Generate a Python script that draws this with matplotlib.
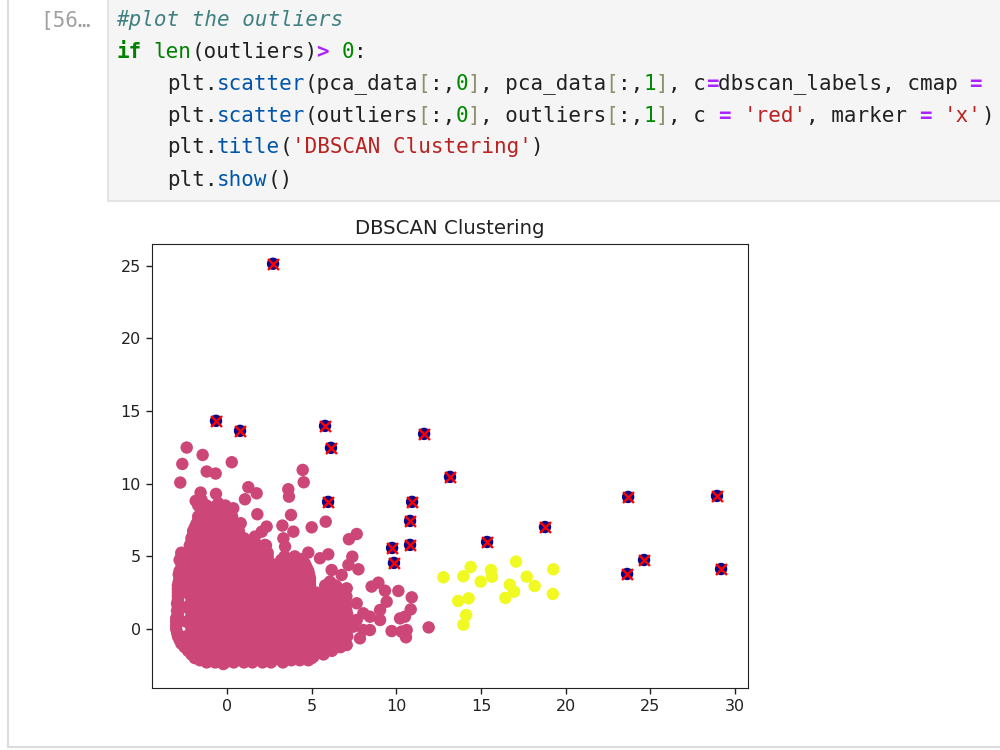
import numpy as np
import matplotlib
matplotlib.use("Agg")
import matplotlib.pyplot as plt
from matplotlib.patches import Rectangle

# outliers (label -1)
outlier_x = [2.72, -0.65, 0.77, 5.79, 6.14, 5.97, 11.64, 13.17, 10.93, 10.81,
             10.81, 9.75, 9.86, 15.36, 18.78, 23.69, 28.94, 23.63, 24.63, 29.18]
outlier_y = [25.14, 14.33, 13.64, 13.98, 12.47, 8.75, 13.43, 10.47, 8.75, 7.44,
             5.79, 5.58, 4.55, 5.99, 7.02, 9.09, 9.16, 3.79, 4.75, 4.13]

# second cluster (label 1)
yellow_x = [12.78, 13.96, 14.39, 15.59, 15.65, 14.98, 17.07, 17.70, 19.27,
            18.17, 16.70, 16.95, 16.44, 19.24, 14.27, 13.65, 14.12, 13.96]
yellow_y = [3.56, 3.63, 4.27, 4.06, 3.60, 3.26, 4.64, 3.60, 4.11,
            2.96, 3.05, 2.57, 2.14, 2.41, 2.11, 1.93, 0.96, 0.30]

# main cluster (label 0): the loose points around the edge
pink_edge_x = [4.47, 4.53, 0.28, -1.44, -2.38, -2.64, -2.76, -1.20, -0.67, -1.56,
               -0.65, -1.85, -1.50, -0.51, 1.26, 1.75, 1.06, 3.62, 3.66, 3.78,
               1.79, 0.81, 0.37, 5.83, 5.00, 3.27, 3.92, 2.34, 2.05, 1.65,
               3.33, 3.43, 2.24, 1.36, 4.80, 4.41, 5.98, 5.49, 7.66, 7.20,
               7.40, 7.17, 7.76, 6.18, 6.77, 6.08, 6.48, 7.07, 6.97, 7.66,
               8.05, 7.66, 8.05, 8.44, 9.04, 9.43, 8.54, 8.94, 9.33, 10.12,
               10.91, 10.85, 10.51, 10.22, 10.61, 10.31, 9.72, 10.57, 11.91, 7.85,
               8.44, 9.04, 7.46, 7.07, 6.08, 5.10, -0.22]
pink_edge_y = [10.95, 10.10, 11.48, 11.98, 12.49, 11.36, 10.08, 10.84, 10.70, 9.39,
               9.30, 8.82, 8.88, 8.65, 9.76, 9.34, 8.93, 9.62, 9.11, 7.85,
               7.90, 7.28, 8.31, 7.39, 7.00, 7.12, 6.70, 7.05, 6.70, 6.36,
               6.24, 5.67, 5.79, 5.67, 5.26, 4.80, 5.14, 4.87, 6.54, 6.18,
               4.98, 4.41, 4.11, 4.06, 3.72, 3.26, 2.92, 2.80, 2.00, 1.77,
               1.08, 0.62, -0.07, -0.07, 1.31, 1.88, 2.92, 3.19, 2.64, 2.62,
               2.18, 1.35, 0.85, 0.73, -0.07, -0.18, -0.14, -0.57, 0.11, -0.64,
               0.85, 0.62, 0.16, -1.10, -1.45, -1.91, -2.41]

# main cluster: the rim of the dense body, left and right sides
pink_rim_x = [-2.85, -2.85, -2.9, -2.9, -2.95, -2.95, -3.0, -3.0, -2.95, -2.8, -2.5, -2.1,
              7.05, 7.05, 7.05, 7.05, 7.05, 7.05, 6.9, 6.7, 5.7, 4.9, 4.85, 4.7]
pink_rim_y = [3.75, 3.25, 2.75, 2.25, 1.75, 1.25, 0.75, 0.25, -0.25, -0.75, -1.25, -1.75,
              2.25, 1.75, 1.25, 0.75, 0.25, -0.25, -0.75, -1.25, -1.75, 3.25, 3.75, 4.25]

# main cluster: the dense body, one list of x values per y level
pink_levels = [8.5, 8.25, 8.0, 7.75, 7.5, 7.25, 7.0, 6.75, 6.5, 6.25, 6.0, 5.75, 5.5, 5.25,
               5.0, 4.75, 4.5, 4.0, 3.5, 3.0, 2.5, 2.0, 1.5, 1.0, 0.5, 0.0, -0.5, -1.0, -1.5, -2.0, -2.15, -2.3]
pink_rows = [
    [-1.7, -1.2, -0.6, -0.1],
    [-1.5, -1.0, -0.5, 0.0],
    [-1.5, -0.9, -0.4, 0.2],
    [-1.7, -1.2, -0.7, -0.2, 0.3],
    [-1.7, -1.2, -0.6, -0.1, 0.3],
    [-1.8, -1.4, -0.9, -0.4, 0.1, 0.5],
    [-1.9, -1.3, -0.8, -0.3, 0.3, 0.5],
    [-2.0, -1.6, -1.2, -0.7, -0.2, 0.3, 0.7],
    [-2.0, -1.5, -1.0, -0.4, 0.1, 0.7],
    [-2.1, -1.7, -1.3, -0.8, -0.3, 0.2, 0.7, 1.0],
    [-2.1, -1.6, -1.1, -0.6, 0.0, 0.5, 0.9],
    [-2.2, -1.8, -1.4, -0.9, -0.4, 0.1, 0.6, 1.2, 1.8, 2.3],
    [-2.2, -1.7, -1.2, -0.6, -0.1, 0.4, 1.0, 1.5, 2.2],
    [-2.7, -2.2, -1.9, -1.3, -0.8, -0.3, 0.3, 0.8, 1.4, 2.0, 2.4],
    [-2.7, -2.2, -1.6, -1.1, -0.5, 0.0, 0.6, 1.1, 1.7, 2.4, 3.4, 4.0],
    [-2.8, -2.4, -1.9, -1.4, -0.9, -0.3, 0.2, 0.8, 1.3, 1.9, 2.4, 3.2, 3.7, 4.3],
    [-2.7, -2.2, -1.7, -1.2, -0.7, -0.1, 0.4, 1.0, 1.5, 2.0, 2.6, 3.1, 3.7, 4.2, 4.6],
    [-2.8, -2.2, -1.7, -1.1, -0.6, 0.0, 0.5, 1.1, 1.6, 2.1, 2.7, 3.2, 3.8, 4.3, 4.8],
    [-2.8, -2.3, -1.8, -1.3, -0.7, -0.2, 0.3, 0.9, 1.4, 2.0, 2.5, 3.1, 3.6, 4.2, 4.9],
    [-2.9, -2.3, -1.8, -1.2, -0.7, -0.1, 0.4, 1.0, 1.5, 2.1, 2.6, 3.2, 3.7, 4.3, 4.9, 5.8, 6.4],
    [-2.9, -2.4, -1.9, -1.3, -0.8, -0.2, 0.3, 0.9, 1.4, 2.0, 2.5, 3.1, 3.6, 4.2, 4.8, 5.3, 5.9, 6.4, 6.9],
    [-2.9, -2.1, -1.6, -1.0, -0.5, 0.1, 0.6, 1.2, 1.7, 2.3, 2.8, 3.4, 3.9, 4.5, 5.0, 5.6, 6.1, 6.7, 7.0],
    [-2.9, -2.4, -1.9, -1.3, -0.8, -0.2, 0.3, 0.9, 1.4, 2.0, 2.5, 3.1, 3.6, 4.2, 4.7, 5.3, 5.8, 6.4, 7.0],
    [-2.9, -2.1, -1.6, -1.0, -0.5, 0.1, 0.6, 1.2, 1.7, 2.3, 2.8, 3.4, 3.9, 4.5, 5.0, 5.6, 6.1, 6.7, 7.1],
    [-3.0, -2.4, -1.9, -1.3, -0.8, -0.2, 0.3, 0.9, 1.4, 2.0, 2.5, 3.1, 3.6, 4.2, 4.7, 5.3, 5.8, 6.4, 7.1],
    [-3.0, -2.1, -1.6, -1.0, -0.5, 0.1, 0.6, 1.2, 1.7, 2.3, 2.8, 3.4, 3.9, 4.5, 5.0, 5.6, 6.1, 6.7, 7.1],
    [-2.9, -2.4, -1.9, -1.3, -0.8, -0.2, 0.3, 0.9, 1.4, 2.0, 2.5, 3.1, 3.6, 4.2, 4.7, 5.3, 5.8, 6.4, 7.1],
    [-2.7, -2.2, -1.6, -1.1, -0.5, 0.0, 0.6, 1.1, 1.7, 2.2, 2.8, 3.3, 3.9, 4.4, 5.0, 5.5, 6.1, 6.6, 7.0],
    [-2.3, -1.9, -1.3, -0.8, -0.2, 0.3, 0.9, 1.4, 2.0, 2.5, 3.1, 3.6, 4.2, 4.7, 5.3, 5.8, 6.2],
    [-1.9, -1.4, -0.9, -0.3, 0.2, 0.8, 1.3, 1.9, 2.4, 3.0, 3.5, 4.1, 4.6, 5.0],
    [-1.6, -1.1, -0.6, -0.1, 0.5, 1.0, 1.6, 2.1, 2.7, 3.2, 3.8, 4.3, 4.8],
    [-1.2, -0.7, -0.1, 0.4, 1.0, 1.5, 2.1, 2.6, 3.3],
]

xticks = [0, 5, 10, 15, 20, 25, 30]
yticks = [0, 5, 10, 15, 20, 25]

# notebook source, one list of (text, colour) tokens per line
TXT = "#212121"
KW = "#008000"
FN = "#0055aa"
NUM = "#008800"
STR = "#ba2121"
OP = "#aa22ff"
BR = "#8f8f6f"
code_lines = [
    (116, 20, [("#plot the outliers", "#408080")]),
    (116, 52, [("if", KW), (" ", TXT), ("len", KW), ("(outliers)", TXT), (">", OP), (" ", TXT), ("0", NUM), (":", TXT)]),
    (167, 84, [("plt.", TXT), ("scatter", FN), ("(pca_data", TXT), ("[", BR), (":,", TXT), ("0", NUM), ("]", BR),
               (", pca_data", TXT), ("[", BR), (":,", TXT), ("1", NUM), ("]", BR), (", c", TXT), ("=", OP),
               ("dbscan_labels, cmap ", TXT), ("=", OP)]),
    (167, 116, [("plt.", TXT), ("scatter", FN), ("(outliers", TXT), ("[", BR), (":,", TXT), ("0", NUM), ("]", BR),
                (", outliers", TXT), ("[", BR), (":,", TXT), ("1", NUM), ("]", BR), (", c ", TXT), ("=", OP), (" ", TXT),
                ("'red'", STR), (", marker ", TXT), ("=", OP), (" ", TXT), ("'x'", STR), (")", TXT)]),
    (167, 147, [("plt.", TXT), ("title", FN), ("(", TXT), ("'DBSCAN Clustering'", STR), (")", TXT)]),
    (167, 180, [("plt.", TXT), ("show", FN), ("()", TXT)]),
]

fig = plt.figure(figsize=(10, 7.5), dpi=100)

# page layer in pixel coordinates
page = fig.add_axes([0, 0, 1, 1])
page.set_xlim(0, 1000)
page.set_ylim(750, 0)
page.axis("off")
page.add_patch(Rectangle((108, -2), 900, 203, facecolor="#f5f5f5", edgecolor="#e0e0e0", lw=1.2))
page.plot([8, 8], [0, 747], color="#dcdcdc", lw=1.5)
page.plot([8, 1000], [747, 747], color="#dcdcdc", lw=1.5)
page.text(40, 21, "[56…", family="DejaVu Sans Mono", fontsize=15, color="#a0a0a0", va="center")

char_w = 12.53
for x0, y0, tokens in code_lines:
    col = 0
    for text, color in tokens:
        bold = color == KW and text == "if" or color == OP
        italic = color == "#408080"
        page.text(x0 + col * char_w, y0, text, family="DejaVu Sans Mono", fontsize=15, color=color,
                  va="center", ha="left", weight="bold" if bold else "normal",
                  style="italic" if italic else "normal")
        col += len(text)

# the chart itself
ax = fig.add_axes([152 / 1000, 1 - 688 / 750, 596 / 1000, 444 / 750])

pink_x = np.concatenate([np.array(r) for r in pink_rows] + [np.array(pink_edge_x), np.array(pink_rim_x)])
pink_y = np.concatenate([np.full(len(r), lv) for r, lv in zip(pink_rows, pink_levels)]
                        + [np.array(pink_edge_y), np.array(pink_rim_y)])

all_x = np.concatenate([pink_x, yellow_x, outlier_x])
all_y = np.concatenate([pink_y, yellow_y, outlier_y])
labels = np.concatenate([np.zeros(len(pink_x)), np.ones(len(yellow_x)), -np.ones(len(outlier_x))])

ax.scatter(all_x, all_y, c=labels, cmap="plasma", s=80, linewidths=0)
ax.scatter(outlier_x, outlier_y, c="red", marker="x", s=62, linewidths=1.7)

ax.set_xlim(-4.43, 30.77)
ax.set_ylim(-4.06, 26.5)
ax.set_xticks(xticks)
ax.set_yticks(yticks)
ax.tick_params(labelsize=11.5, length=4.5, width=1, colors="#222222")
ax.set_title("DBSCAN Clustering", fontsize=14.2, color="#222222", pad=7)
for s in ax.spines.values():
    s.set_color("#222222")

plt.savefig("out.png", dpi=100)
